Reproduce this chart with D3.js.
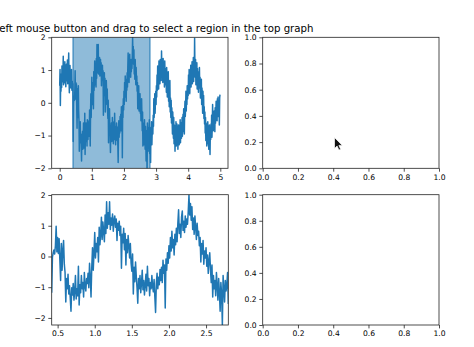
<!DOCTYPE html>
<html><head><meta charset="utf-8">
<script src="https://cdn.jsdelivr.net/npm/d3@7"></script>
<style>
body{margin:0;background:#fff}
svg{display:block}
text{font-family:"DejaVu Sans",sans-serif;fill:#000}
</style>
</head><body>
<svg id="c" width="474" height="347"></svg>
<script>
// ---- data (sampled every 0.01 from 0.00 to 4.99) ----
const xStart = 0, xStep = 0.01;
const yValues = [
 0.52, 1.02,-0.08, 0.61, 0.35, 0.88, 0.47, 1.12, 0.64, 0.95,
 0.72, 1.42, 0.55, 1.08, 0.83, 0.61, 1.25, 0.78, 1.05, 0.49,
 0.92, 1.18, 0.67, 0.98, 1.31, 0.58, 0.84, 1.12, 1.52, 0.73,
 0.31, 0.96, 1.14, 0.62, 0.85, 0.45, 0.79, 1.02, 0.38, 0.66,
 0.52, 0.58,-1.18,-0.02, 0.12, 0.21, 0.08, 0.35, 0.98, 0.15,
 0.62, 0.10, 0.58,-0.12,-0.78, 0.42,-0.45, 0.18, 0.52,-0.25,
-0.52,-1.48,-0.72,-1.05,-0.58,-1.22,-0.95,-1.35,-1.78,-1.02,
-1.25,-0.88,-1.42,-1.12,-0.62,-1.38,-1.05,-1.28,-0.32,-1.58,
-0.92,-1.18,-0.62,-1.05,-0.85,-1.32,-0.52,-0.98,-1.12,-0.72,
-0.88,-0.55,-1.02,-0.22,-0.68,-1.32,-0.35, 0.28,-0.45, 0.12,
 0.78,-0.05, 0.42, 0.15, 0.62,-0.18, 0.95, 0.38, 0.72, 1.28,
 0.55, 1.12, 0.82, 0.48, 1.35, 0.75, 1.78, 0.92, 1.42, 1.05,
 1.78, 0.88, 1.25, 1.02, 1.38, 0.82, 1.18, 1.32, 0.95, 1.22,
 0.52, 1.08, 0.85, 1.15, 0.68, 0.98,-0.38, 0.72, 0.45, 0.92,
 0.22, 0.75,-0.28, 0.55, 0.12, 0.68, 0.35,-0.05, 0.42,-0.22,
-0.48, 0.08,-1.22,-0.35,-0.82,-0.18,-0.65,-1.02,-1.52,-0.72,
-1.05,-0.62,-1.18,-0.88,-0.45,-1.08,-0.78,-1.25,-0.92,-0.58,
-1.12,-0.32,-0.95,-0.72,-1.28,-0.85,-1.05,-0.62,-0.98,-1.15,
-0.75,-1.32,-1.82,-0.88,-0.55,-1.05,-0.68,-0.92,-0.42,-0.78,
-0.35,-0.85,-0.12,-0.55,-0.28,-1.68,-0.08,-0.45, 0.12,-0.22,
 0.35,-0.05, 0.62, 0.18, 0.82, 0.28, 0.55, 0.05, 0.72, 0.38,
 0.92, 0.48, 1.08, 1.52, 0.75, 1.05, 0.62, 1.28, 1.48, 0.85,
 1.15, 0.78, 1.32, 0.95, 1.22, 1.05, 1.45, 2.01, 1.35, 1.72,
 1.18, 1.62, 0.88, 1.25, 0.72, 1.32, 0.95, 0.55, 1.08, 0.68,
 0.82, 0.35, 0.62,-0.18, 0.42, 0.08, 0.52,-0.25, 0.18,-0.05,
 0.28,-0.32, 0.05,-0.55,-0.15, 0.12,-0.42,-0.85,-0.28,-1.32,
-0.62,-1.05,-0.78,-1.28,-0.52,-0.95,-1.42,-0.72,-1.15,-1.78,
-0.85,-1.22,-2.23,-0.62,-1.05,-1.48,-0.78,-1.12,-0.95,-0.52,
-1.55,-0.92,-1.35,-1.82,-0.75,-1.12,-0.58,-1.28,-0.85,-0.62,
-0.95,-0.38,-0.72, 0.12,-0.45,-0.15, 0.28,-0.32, 0.05, 0.35,
-0.05, 0.52, 0.18, 0.85, 0.38, 1.12, 0.62, 0.95, 0.42, 1.28,
 0.75, 1.05, 0.58, 1.32, 0.92, 1.18, 0.68, 1.58, 1.02, 0.85,
 1.22, 0.62, 1.35, 0.95, 0.72, 1.15, 0.48, 1.28, 0.88, 1.05,
 0.55, 0.92, 0.32, 1.08, 0.65, 0.18, 0.82, 0.42, 0.95, 0.05,
 0.52,-0.12, 0.35, 0.68,-0.28, 0.15,-0.45, 0.08,-0.62,-0.15,
-0.52,-0.95,-0.28,-0.72,-1.08,-0.45,-1.25,-0.68,-0.88,-1.48,
-0.75,-1.12,-0.58,-1.32,-0.92,-0.65,-1.18,-0.82,-1.42,-0.95,
-0.68,-1.05,-1.28,-0.72,-0.98,-0.52,-1.22,-0.85,-0.62,-1.08,
-0.78,-0.45,-1.02,-0.62,-0.35,-0.88,-0.18,-0.55,-0.95,-0.28,
 0.05,-0.42,-0.12, 0.35,-0.25, 0.18,-0.05, 0.52, 0.12, 0.42,
 0.22, 0.85, 0.38, 1.02, 0.55, 0.28, 0.92, 0.62, 1.15, 0.48,
 0.95, 0.72, 1.25, 0.58, 1.08, 0.82, 1.38, 0.65, 1.12, 0.92,
 1.97, 1.05, 0.78, 1.32, 0.55, 1.15, 0.88, 1.22, 0.42, 1.05,
 0.72, 0.95, 0.32, 0.85, 0.58, 1.08, 0.45, 0.78, 0.15, 0.62,
 0.28, 0.72,-0.05, 0.45, 0.12,-0.32, 0.35,-0.15, 0.22,-0.48,
-0.12,-0.65,-0.28,-0.92,-0.45,-1.15,-0.62,-0.85,-1.32,-0.72,
-1.05,-0.58,-1.25,-0.82,-1.42,-0.95,-0.68,-1.18,-1.58,-0.88,
-1.12,-0.65,-0.92,-0.38,-1.05,-0.72,-0.05,-0.55,-0.85,-0.42,
-0.68,-0.25,-0.52,-0.88,-0.15,-0.62,-0.35, 0.05,-0.45,-0.18,
-0.55, 0.12,-0.28, 0.18,-0.42,-0.08, 0.05,-0.68, 0.15, 0.25
];
const spanRange = [0.415, 2.81];           // selected span in top graph
const titleText = "Press left mouse button and drag to select a region in the top graph";
const topXTicks  = [0, 1, 2, 3, 4, 5];
const topYTicks  = [-2, -1, 0, 1, 2];
const zoomXTicks = [0.5, 1.0, 1.5, 2.0, 2.5];
const zoomYTicks = [-2, -1, 0, 1, 2];
const emptyTicks = [0.0, 0.2, 0.4, 0.6, 0.8, 1.0];

const LINE = "#1f77b4";
const svg = d3.select("#c");
const points = yValues.map((y, i) => ({x: +(xStart + i * xStep).toFixed(2), y}));

const boxes = {
  tl: {x: 51.7, y: 37.3, w: 176.3, h: 131},
  tr: {x: 262.7, y: 37.3, w: 176.3, h: 131},
  bl: {x: 51.7, y: 194.7, w: 176.6, h: 130.3},
  br: {x: 262.7, y: 194.7, w: 176.3, h: 130.3}
};

function drawAxes(b, xs, ys, xt, yt, xfmt, yfmt, id, content) {
  const g = svg.append("g").attr("transform", `translate(${b.x},${b.y})`);
  g.append("clipPath").attr("id", id).append("rect").attr("width", b.w).attr("height", b.h);
  const inner = g.append("g").attr("clip-path", `url(#${id})`);
  if (content) content(inner);
  const ax = g.append("g").attr("transform", `translate(0,${b.h})`)
    .call(d3.axisBottom(xs).tickValues(xt).tickFormat(xfmt).tickSizeInner(3.4).tickSizeOuter(0).tickPadding(2.6));
  const ay = g.append("g")
    .call(d3.axisLeft(ys).tickValues(yt).tickFormat(yfmt).tickSizeInner(3.4).tickSizeOuter(0).tickPadding(2.6));
  [ax, ay].forEach(a => {
    a.select(".domain").remove();
    a.selectAll("line").attr("stroke", "#222").attr("stroke-width", 0.8);
    a.selectAll("text").attr("font-size", 7.6).attr("font-family", "DejaVu Sans").attr("fill", "#111");
  });
  g.append("rect").attr("width", b.w).attr("height", b.h)
    .attr("fill", "none").attr("stroke", "#222").attr("stroke-width", 0.8);
  return g;
}

// top-left: full signal with selected span
const xTop = d3.scaleLinear().domain([-0.2495, 5.2395]).range([0, boxes.tl.w]);
const yTop = d3.scaleLinear().domain([-2, 2]).range([boxes.tl.h, 0]);
const lineTop = d3.line().x(d => xTop(d.x)).y(d => yTop(d.y));
drawAxes(boxes.tl, xTop, yTop, topXTicks, topYTicks, d3.format("d"), d3.format("d"), "clipTL", g => {
  g.append("path").datum(points).attr("d", lineTop)
    .attr("fill", "none").attr("stroke", LINE).attr("stroke-width", 1.5).attr("stroke-linejoin", "round");
  g.append("rect").attr("x", xTop(spanRange[0])).attr("width", xTop(spanRange[1]) - xTop(spanRange[0]))
    .attr("y", 0).attr("height", boxes.tl.h).attr("fill", LINE).attr("fill-opacity", 0.5);
  spanRange.forEach(v => g.append("line").attr("x1", xTop(v)).attr("x2", xTop(v))
    .attr("y1", 0).attr("y2", boxes.tl.h).attr("stroke", LINE).attr("stroke-width", 1));
});

// bottom-left: zoomed region
const i0 = d3.bisectLeft(points.map(d => d.x), spanRange[0]);
const i1 = Math.min(points.length - 1, d3.bisectLeft(points.map(d => d.x), spanRange[1]));
const region = points.slice(i0, i1);
const xZoom = d3.scaleLinear().domain([region[0].x, region[region.length - 1].x]).range([0, boxes.bl.w]);
const yZoom = d3.scaleLinear().domain(d3.extent(region, d => d.y)).range([boxes.bl.h, 0]);
const lineZoom = d3.line().x(d => xZoom(d.x)).y(d => yZoom(d.y));
drawAxes(boxes.bl, xZoom, yZoom, zoomXTicks, zoomYTicks, d3.format(".1f"), d3.format("d"), "clipBL", g => {
  g.append("path").datum(region).attr("d", lineZoom)
    .attr("fill", "none").attr("stroke", LINE).attr("stroke-width", 1.5).attr("stroke-linejoin", "round");
});

// empty right axes
["tr", "br"].forEach(k => {
  const b = boxes[k];
  const xs = d3.scaleLinear().domain([0, 1]).range([0, b.w]);
  const ys = d3.scaleLinear().domain([0, 1]).range([b.h, 0]);
  drawAxes(b, xs, ys, emptyTicks, emptyTicks, d3.format(".1f"), d3.format(".1f"), "clip" + k, null);
});

// title over the top-left axes
svg.append("text").attr("x", boxes.tl.x + boxes.tl.w / 2).attr("y", 31.5)
  .attr("text-anchor", "middle").attr("font-size", 10.2).attr("fill", "#111").text(titleText);

// mouse cursor
svg.append("path").attr("transform", "translate(334.5,137.5)")
  .attr("d", "M0,0 L0,11 L2.6,8.6 L4.4,12.6 L6.2,11.8 L4.4,7.9 L7.8,7.9 Z")
  .attr("fill", "#111").attr("stroke", "#fff").attr("stroke-width", 0.7);
</script>
</body></html>
